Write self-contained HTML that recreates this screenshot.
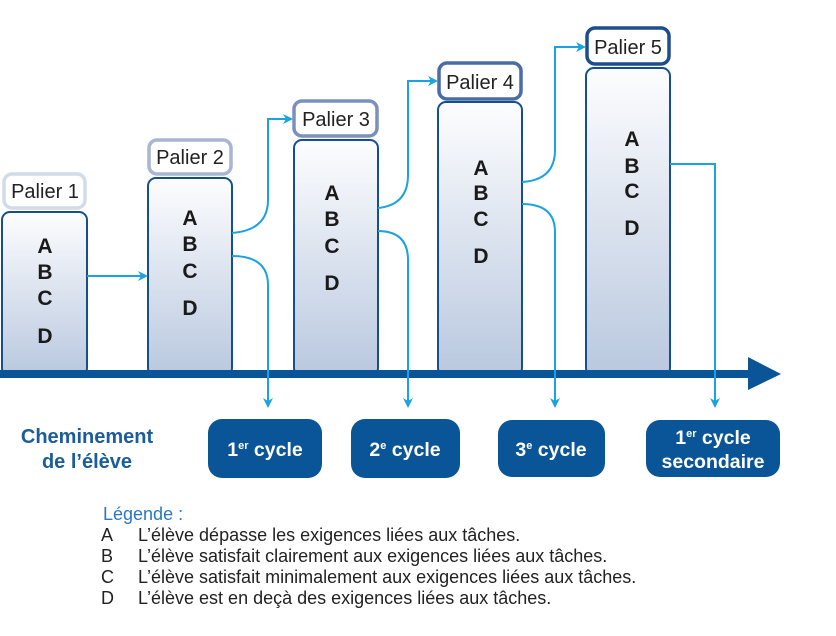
<!DOCTYPE html>
<html><head><meta charset="utf-8"><style>
body{margin:0;background:#fff;width:836px;height:636px;overflow:hidden}
svg{display:block}
.lbl{font-family:"Liberation Sans",sans-serif;font-size:20px;fill:#222}
.let{font-family:"Liberation Sans",sans-serif;font-size:21px;font-weight:bold;fill:#1a1a1a}
.box{font-family:"Liberation Sans",sans-serif;font-size:19.5px;font-weight:bold;fill:#fff}
.leg{font-family:"Liberation Sans",sans-serif;font-size:18px;fill:#222}
</style></head><body>
<svg width="836" height="636" viewBox="0 0 836 636">
<defs>
<linearGradient id="g" x1="0" y1="0" x2="0" y2="1"><stop offset="0" stop-color="#fdfdfe"/><stop offset="1" stop-color="#b9c8df"/></linearGradient>
<marker id="ar" markerWidth="10" markerHeight="10" refX="8" refY="5" orient="auto" markerUnits="userSpaceOnUse"><path d="M0,0 L10,5 L0,10 L3,5 Z" fill="#1aa3e0"/></marker>
</defs>
<g stroke="#15508c" stroke-width="2" fill="url(#g)">
<rect x="2" y="212" width="85" height="164" rx="8"/>
<rect x="148" y="178" width="84" height="198" rx="8"/>
<rect x="294" y="140" width="84" height="236" rx="8"/>
<rect x="438" y="102" width="84" height="274" rx="8"/>
<rect x="586" y="68" width="84" height="308" rx="8"/>
</g>
<g fill="#fff" stroke-width="3.5">
<rect x="4" y="174" width="81" height="34" rx="8" stroke="#d3dbe9"/>
<rect x="149" y="140" width="82" height="34" rx="8" stroke="#a9b5d1"/>
<rect x="294" y="101" width="83" height="35" rx="8" stroke="#7c90bd"/>
<rect x="439" y="63" width="82" height="36" rx="8" stroke="#4a6ca6"/>
<rect x="587" y="28" width="82" height="36" rx="8" stroke="#1d4d8c"/>
</g>
<text class="lbl" x="45" y="198" text-anchor="middle">Palier 1</text>
<text class="lbl" x="190" y="164" text-anchor="middle">Palier 2</text>
<text class="lbl" x="336" y="126" text-anchor="middle">Palier 3</text>
<text class="lbl" x="480" y="89" text-anchor="middle">Palier 4</text>
<text class="lbl" x="628" y="54" text-anchor="middle">Palier 5</text>
<g class="let" text-anchor="middle">
<text x="45" y="253">A</text><text x="45" y="279">B</text><text x="45" y="305">C</text><text x="45" y="343">D</text>
<text x="190" y="225">A</text><text x="190" y="251">B</text><text x="190" y="278">C</text><text x="190" y="315">D</text>
<text x="332" y="200">A</text><text x="332" y="226">B</text><text x="332" y="253">C</text><text x="332" y="290">D</text>
<text x="481" y="175">A</text><text x="481" y="200">B</text><text x="481" y="226">C</text><text x="481" y="263">D</text>
<text x="632" y="146">A</text><text x="632" y="173">B</text><text x="632" y="198">C</text><text x="632" y="235">D</text>
</g>
<rect x="0" y="370" width="752" height="8" fill="#0a5597"/>
<path d="M748,357 L781,374 L748,390 Z" fill="#0a5597"/>
<g stroke="#1aa3e0" stroke-width="2" fill="none">
<path d="M87,276 H146" marker-end="url(#ar)"/>
<path d="M232,233 Q268,230 268,200 V119 H291" marker-end="url(#ar)"/>
<path d="M232,256 Q268,256 268,285 V406" marker-end="url(#ar)"/>
<path d="M378,208 Q408,205 408,175 V81 H436" marker-end="url(#ar)"/>
<path d="M378,231 Q408,231 408,260 V406" marker-end="url(#ar)"/>
<path d="M522,182 Q555,180 555,150 V47 H584" marker-end="url(#ar)"/>
<path d="M522,204 Q555,204 555,232 V406" marker-end="url(#ar)"/>
<path d="M670,164 H715 V406" marker-end="url(#ar)"/>
</g>
<g fill="#0a5597">
<rect x="208" y="419" width="114" height="59" rx="14"/>
<rect x="351" y="419" width="109" height="59" rx="14"/>
<rect x="498" y="420" width="107" height="57" rx="14"/>
<rect x="646" y="420" width="134" height="57" rx="14"/>
</g>
<text class="box" x="265" y="456" text-anchor="middle">1<tspan font-size="11" dy="-7">er</tspan><tspan dy="7"> cycle</tspan></text>
<text class="box" x="405" y="456" text-anchor="middle">2<tspan font-size="11" dy="-7">e</tspan><tspan dy="7"> cycle</tspan></text>
<text class="box" x="551" y="456" text-anchor="middle">3<tspan font-size="11" dy="-7">e</tspan><tspan dy="7"> cycle</tspan></text>
<text class="box" x="713" y="444" text-anchor="middle">1<tspan font-size="11" dy="-7">er</tspan><tspan dy="7"> cycle</tspan></text>
<text class="box" x="713" y="468" text-anchor="middle">secondaire</text>
<text x="87" y="443" text-anchor="middle" style="font-family:'Liberation Sans',sans-serif;font-size:20px;font-weight:bold;fill:#1b5d9c">Cheminement</text>
<text x="87" y="468" text-anchor="middle" style="font-family:'Liberation Sans',sans-serif;font-size:20px;font-weight:bold;fill:#1b5d9c">de l’élève</text>
<text x="103" y="520" style="font-family:'Liberation Sans',sans-serif;font-size:18px;fill:#2a78bd">Légende :</text>
<g class="leg">
<text x="101" y="541">A</text><text x="138" y="541">L’élève dépasse les exigences liées aux tâches.</text>
<text x="101" y="562">B</text><text x="138" y="562">L’élève satisfait clairement aux exigences liées aux tâches.</text>
<text x="101" y="583">C</text><text x="138" y="583">L’élève satisfait minimalement aux exigences liées aux tâches.</text>
<text x="101" y="604">D</text><text x="138" y="604">L’élève est en deçà des exigences liées aux tâches.</text>
</g>
</svg>
</body></html>
